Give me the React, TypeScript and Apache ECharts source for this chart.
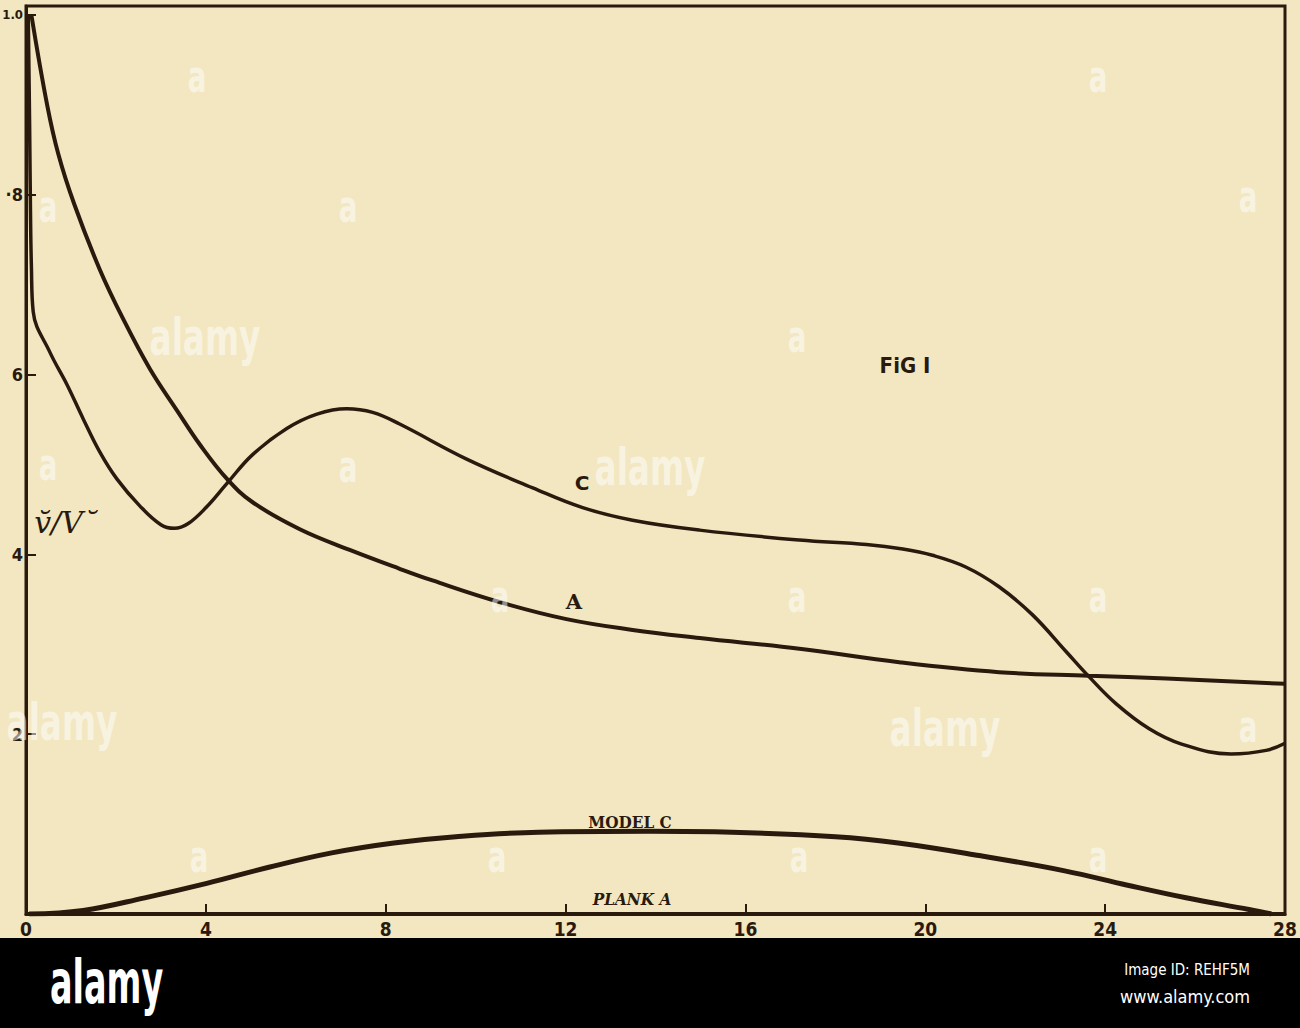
import React, { useEffect, useRef } from "react";
import * as echarts from "echarts";

// ---- data ----
const xTicks = [0, 4, 8, 12, 16, 20, 24, 28];
const yTickLabels: Record<string, string> = { "0.2": "2", "0.4": "4", "0.6": "6", "0.8": "·8", "1": "{s|1.0}" };

const curveA_x = [0.12, 0.47, 0.72, 1.07, 1.64, 2.16, 2.76, 3.36, 3.87, 4.47, 5.04, 6.09, 7.2, 8.31, 9.04, 10.53, 12.02, 13.49, 14.98, 17.2, 19.42, 21.64, 23.64, 25.36, 28];
const curveA_y = [1.0, 0.9, 0.845, 0.79, 0.717, 0.662, 0.606, 0.56, 0.522, 0.484, 0.458, 0.428, 0.405, 0.384, 0.371, 0.347, 0.328, 0.316, 0.307, 0.295, 0.28, 0.269, 0.265, 0.262, 0.256];

const curveC_x = [0.05, 0.08, 0.1, 0.12, 0.16, 0.53, 0.91, 1.27, 1.64, 2.02, 2.53, 3.0, 3.3, 3.6, 4.02, 4.47, 5.04, 5.8, 6.47, 7.13, 7.71, 8.31, 9.8, 11.27, 12.38, 13.49, 14.98, 17.2, 18.69, 19.5, 20.16, 20.9, 21.64, 22.38, 23.13, 23.64, 24.24, 24.98, 25.7, 26.8, 27.58, 28];
const curveC_y = [1.0, 0.88, 0.78, 0.72, 0.67, 0.625, 0.589, 0.551, 0.514, 0.484, 0.454, 0.433, 0.429, 0.434, 0.453, 0.479, 0.511, 0.54, 0.556, 0.562, 0.558, 0.545, 0.506, 0.474, 0.452, 0.438, 0.427, 0.416, 0.411, 0.406, 0.399, 0.386, 0.364, 0.333, 0.292, 0.264, 0.234, 0.206, 0.189, 0.178, 0.182, 0.19];

const modelC_x = [0.07, 1.27, 2.64, 4.02, 5.4, 6.8, 8.18, 9.56, 11.4, 13.87, 15.7, 18.0, 19.4, 21.2, 23.1, 24.5, 25.8, 27.2, 27.7];
const modelC_y = [0.0, 0.004, 0.018, 0.034, 0.052, 0.068, 0.079, 0.086, 0.091, 0.092, 0.091, 0.086, 0.079, 0.065, 0.048, 0.032, 0.018, 0.005, 0.0];

const plankA_x = [0, 28];
const plankA_y = [0, 0];

const INK = "#2a1a0e";
const PAPER = "#f2e7c1";

const zip = (xs: number[], ys: number[]) => xs.map((x, i) => [x, ys[i]]);

export default function App() {
  const ref = useRef<HTMLDivElement>(null);
  useEffect(() => {
    document.body.style.margin = "0";
    const chart = echarts.init(ref.current!, undefined, { renderer: "svg" });
    const lineSeries = (name: string, data: number[][], width: number) => ({
      name,
      type: "line",
      data,
      showSymbol: false,
      smooth: 0.4,
      lineStyle: { color: INK, width },
      clip: true,
      z: 3,
    });
    const wm = "rgba(255,255,255,0.5)";
    const wmFont = "bold 44px 'Liberation Sans Narrow', 'DejaVu Sans Condensed', sans-serif";
    const wmA = (x: number, y: number) => ({
      type: "text", x, y, z: 10, scaleX: 0.7,
      style: { text: "a", fill: wm, font: wmFont, align: "center", verticalAlign: "middle" },
    });
    const wmAlamy = (x: number, y: number) => ({
      type: "text", x, y, z: 10, scaleX: 0.7,
      style: { text: "alamy", fill: wm, font: "bold 52px 'Liberation Sans Narrow', 'DejaVu Sans Condensed', sans-serif", align: "center", verticalAlign: "middle" },
    });
    chart.setOption({
      animation: false,
      backgroundColor: PAPER,
      grid: {
        left: 26, right: 15, top: 6, bottom: 114,
        containLabel: false, outerBoundsMode: "none",
        show: true, borderColor: INK, borderWidth: 3, backgroundColor: "transparent",
      },
      xAxis: {
        type: "value",
        min: 0,
        max: 28,
        interval: 4,
        splitLine: { show: false },
        axisLine: { show: true, lineStyle: { color: INK, width: 3 } },
        axisTick: { show: true, inside: true, length: 10, lineStyle: { color: INK, width: 2 } },
        axisLabel: {
          color: INK,
          fontSize: 19,
          fontWeight: "bold",
          fontFamily: "DejaVu Sans Condensed, sans-serif",
          margin: 5,
          formatter: (v: number) => (xTicks.includes(v) ? String(v) : ""),
        },
      },
      yAxis: {
        type: "value",
        min: 0,
        max: 1.01,
        interval: 0.2,
        splitLine: { show: false },
        axisLine: { show: true, lineStyle: { color: INK, width: 3 } },
        axisTick: { show: true, inside: true, length: 10, lineStyle: { color: INK, width: 2 } },
        axisLabel: {
          color: INK,
          fontSize: 18,
          fontWeight: "bold",
          fontFamily: "DejaVu Sans Condensed, sans-serif",
          margin: 3,
          formatter: (v: number) => yTickLabels[String(Math.round(v * 10) / 10)] ?? "",
          rich: { s: { fontSize: 13, fontWeight: "bold", color: INK, fontFamily: "DejaVu Sans Condensed, sans-serif" } },
        },
      },
      series: [
        lineSeries("A", zip(curveA_x, curveA_y), 4),
        lineSeries("C", zip(curveC_x, curveC_y), 3.5),
        lineSeries("Model C", zip(modelC_x, modelC_y), 5),
        { ...lineSeries("Plank A", zip(plankA_x, plankA_y), 4), smooth: false },
      ],
      graphic: [
        { type: "text", x: 905, y: 365, z: 5, style: { text: "FiG I", fill: INK, font: "bold 22px 'DejaVu Sans Condensed', sans-serif", align: "center", verticalAlign: "middle" } },
        { type: "text", x: 582, y: 483, z: 5, style: { text: "C", fill: INK, font: "bold 20px 'DejaVu Sans', sans-serif", align: "center", verticalAlign: "middle" } },
        { type: "text", x: 574, y: 601, z: 5, style: { text: "A", fill: INK, font: "bold 21px 'DejaVu Serif', serif", align: "center", verticalAlign: "middle" } },
        { type: "text", x: 630, y: 822, z: 5, style: { text: "MODEL C", fill: INK, font: "bold 17px 'DejaVu Serif Condensed', serif", align: "center", verticalAlign: "middle" } },
        { type: "text", x: 632, y: 899, z: 5, style: { text: "PLANK A", fill: INK, font: "bold italic 17px 'DejaVu Serif Condensed', serif", align: "center", verticalAlign: "middle" } },
        { type: "text", x: 66, y: 522, z: 5, style: { text: "v̆/V˘", fill: INK, font: "italic 30px 'DejaVu Serif', serif", align: "center", verticalAlign: "middle" } },
        // faint stock watermark
        wmAlamy(205, 337), wmAlamy(650, 467), wmAlamy(945, 728), wmAlamy(62, 722),
        wmA(197, 77), wmA(1098, 77),
        wmA(48, 207), wmA(348, 207), wmA(1248, 197),
        wmA(797, 337),
        wmA(48, 465), wmA(348, 467), wmA(500, 597), wmA(797, 597), wmA(1098, 597),
        wmA(1248, 727), wmA(199, 857), wmA(497, 857), wmA(799, 857), wmA(1098, 857),
        // black footer
        { type: "rect", shape: { x: 0, y: 938, width: 1300, height: 90 }, style: { fill: "#000" }, z: 20 },
        { type: "text", x: 50, y: 983, z: 21, scaleX: 0.62, style: { text: "alamy", fill: "#fff", font: "bold 60px 'Liberation Sans Narrow', 'DejaVu Sans Condensed', sans-serif", verticalAlign: "middle" } },
        { type: "text", x: 1250, y: 970, z: 21, style: { text: "Image ID: REHF5M", fill: "#fff", font: "15px 'Liberation Sans Narrow', 'DejaVu Sans Condensed', sans-serif", align: "right", verticalAlign: "middle" } },
        { type: "text", x: 1250, y: 996, z: 21, style: { text: "www.alamy.com", fill: "#fff", font: "18px 'Liberation Sans Narrow', 'DejaVu Sans Condensed', sans-serif", align: "right", verticalAlign: "middle" } },
      ],
    });
    return () => chart.dispose();
  }, []);
  return <div ref={ref} style={{ position: "absolute", left: 0, top: 0, width: 1300, height: 1028 }} />;
}
